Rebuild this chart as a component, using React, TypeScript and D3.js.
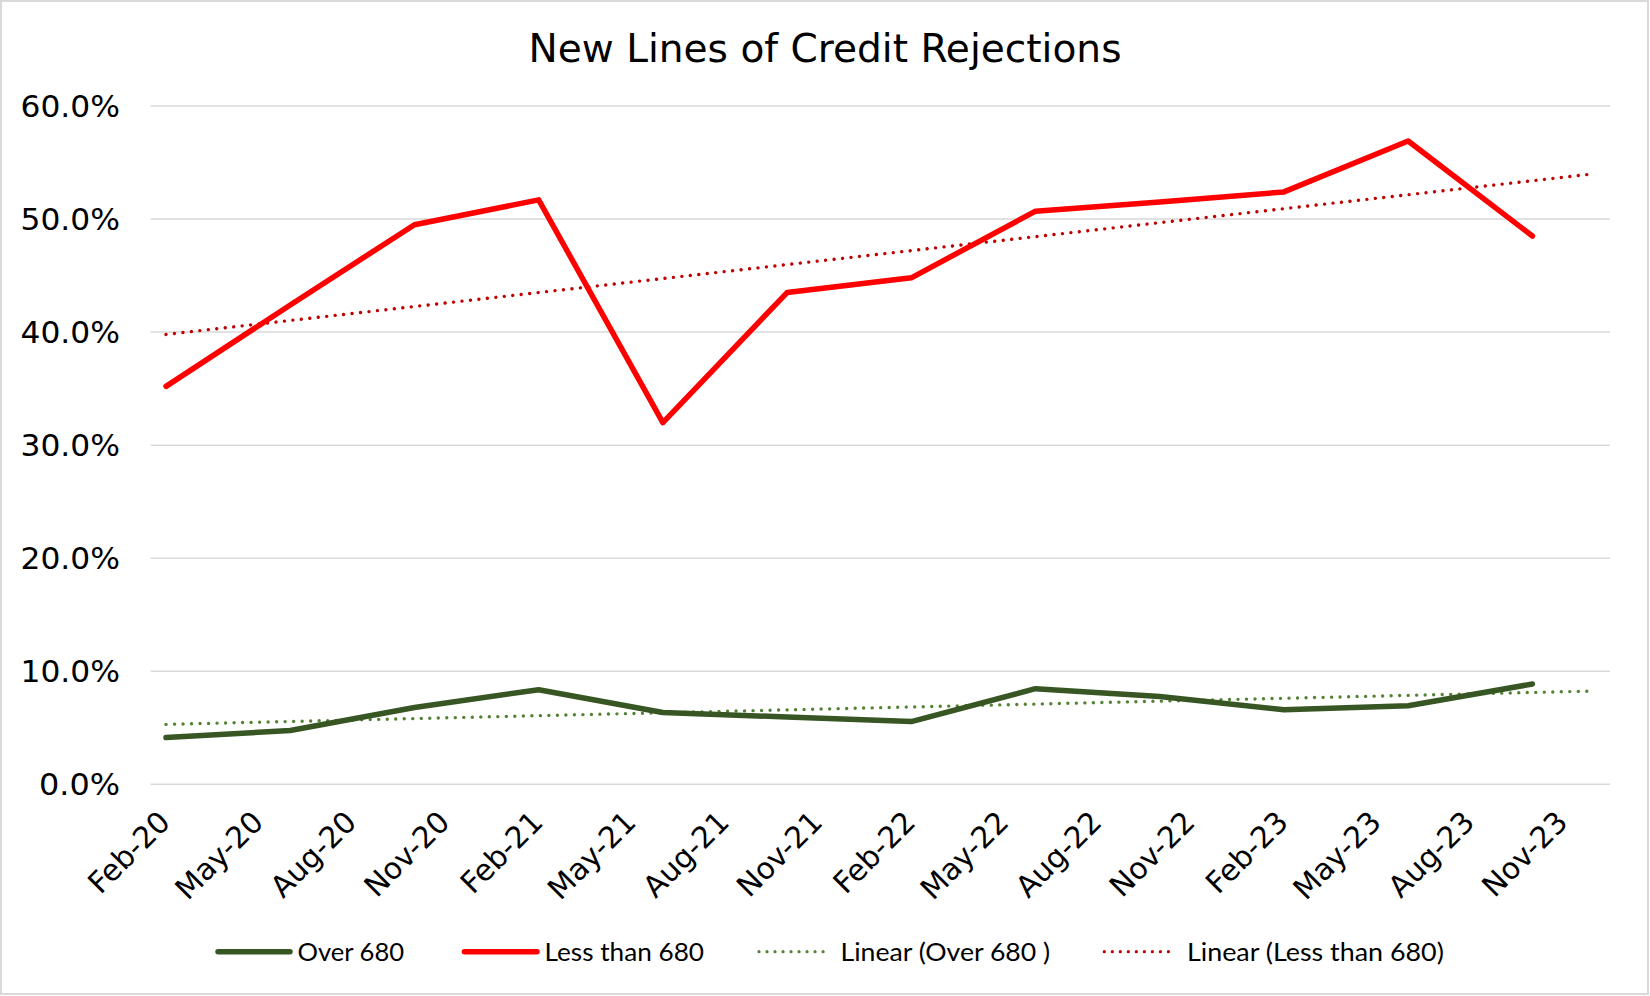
import { useEffect, useRef } from "react"
import * as d3 from "d3"

// data (percent values)
const months = ["Feb-20", "Jun-20", "Oct-20", "Feb-21", "Jun-21", "Oct-21", "Feb-22", "Jun-22", "Oct-22", "Feb-23", "Jun-23", "Oct-23"]
const over680 = [4.13, 4.76, 6.8, 8.37, 6.35, 5.95, 5.55, 8.46, 7.77, 6.6, 6.95, 8.87]
const lessThan680 = [35.2, 42.4, 49.5, 51.7, 32.0, 43.5, 44.8, 50.7, 51.5, 52.4, 56.9, 48.5]
const tickLabels = ["Feb-20", "May-20", "Aug-20", "Nov-20", "Feb-21", "May-21", "Aug-21", "Nov-21", "Feb-22", "May-22", "Aug-22", "Nov-22", "Feb-23", "May-23", "Aug-23", "Nov-23"]
const yTicks = [0, 10, 20, 30, 40, 50, 60]
const legendItems = [
  { label: "Over 680", color: "#375623", dotted: false },
  { label: "Less than 680", color: "#ff0000", dotted: false },
  { label: "Linear (Over 680 )", color: "#548235", dotted: true },
  { label: "Linear (Less than 680)", color: "#c00000", dotted: true },
]

const W = 1650
const H = 996

export default function App() {
  const svgRef = useRef<SVGSVGElement>(null)

  useEffect(() => {
    if (!svgRef.current) return
    const svg = d3.select(svgRef.current)
    svg.selectAll("*").remove()

    const parse = d3.timeParse("%b-%y")
    const start = parse(months[0]) as Date
    const monthIndex = (s: string) => d3.timeMonth.count(start, parse(s) as Date)
    const xs = months.map(monthIndex)

    const x = d3.scaleLinear().domain([-0.5, 46.5]).range([150.5, 1610])
    const y = d3.scaleLinear().domain([0, 60]).range([784.3, 106])

    // outer border
    svg
      .append("rect")
      .attr("x", 1)
      .attr("y", 1)
      .attr("width", W - 3)
      .attr("height", H - 3)
      .attr("fill", "#fff")
      .attr("stroke", "#d9d9d9")
      .attr("stroke-width", 2)

    // title
    svg
      .append("text")
      .attr("x", W / 2)
      .attr("y", 61.5)
      .attr("text-anchor", "middle")
      .attr("font-family", "DejaVu Sans")
      .attr("font-size", 39)
      .attr("textLength", 593)
      .attr("lengthAdjust", "spacingAndGlyphs")
      .text("New Lines of Credit Rejections")

    // gridlines + y labels
    const g = svg.append("g")
    g.selectAll(".grid")
      .data(yTicks)
      .join("line")
      .attr("x1", x.range()[0])
      .attr("x2", x.range()[1])
      .attr("y1", (d) => y(d))
      .attr("y2", (d) => y(d))
      .attr("stroke", "#d9d9d9")
      .attr("stroke-width", 1.5)

    g.selectAll(".ylab")
      .data(yTicks)
      .join("text")
      .attr("x", 120)
      .attr("y", (d) => y(d))
      .attr("dy", "0.36em")
      .attr("text-anchor", "end")
      .attr("font-family", "DejaVu Sans")
      .attr("font-size", 29.7)
      .attr("textLength", (d) => (d < 10 ? 81 : 99.5))
      .attr("lengthAdjust", "spacingAndGlyphs")
      .text((d) => d3.format(".1f")(d) + "%")

    // x labels, rotated
    g.selectAll(".xlab")
      .data(tickLabels)
      .join("text")
      .attr("transform", (d) => `translate(${x(monthIndex(d)) - 1.5}, 816.5) rotate(-45)`)
      .attr("dy", "0.35em")
      .attr("text-anchor", "end")
      .attr("font-family", "DejaVu Sans")
      .attr("font-size", 29.7)
      .text((d) => d)

    // trendlines (least squares, 2 months forward forecast)
    const trend = (vals: number[]) => {
      const mx = d3.mean(xs) as number
      const my = d3.mean(vals) as number
      const sxy = d3.sum(xs, (v, i) => (v - mx) * (vals[i] - my))
      const sxx = d3.sum(xs, (v) => (v - mx) ** 2)
      const slope = sxy / sxx
      const b = my - slope * mx
      const x0 = xs[0]
      const x1 = xs[xs.length - 1] + 2
      return [
        [x0, b + slope * x0],
        [x1, b + slope * x1],
      ] as [number, number][]
    }

    const line = d3
      .line<[number, number]>()
      .x((d) => x(d[0]))
      .y((d) => y(d[1]))

    const series = [
      { vals: over680, color: "#375623" },
      { vals: lessThan680, color: "#ff0000" },
    ]

    series.forEach((s, i) => {
      svg
        .append("path")
        .attr("d", line(trend(s.vals)))
        .attr("fill", "none")
        .attr("stroke", legendItems[i + 2].color)
        .attr("stroke-width", 3.4)
        .attr("stroke-linecap", "round")
        .attr("stroke-dasharray", "0.01 8.5")
    })

    series.forEach((s) => {
      svg
        .append("path")
        .attr("d", line(s.vals.map((v, i) => [xs[i], v] as [number, number])))
        .attr("fill", "none")
        .attr("stroke", s.color)
        .attr("stroke-width", 5.5)
        .attr("stroke-linejoin", "round")
        .attr("stroke-linecap", "round")
    })

    // legend
    const swatchX = [218, 464.4, 759, 1104.3]
    const swatchW = [72, 72.6, 70.5, 71.6]
    const textW = [106.6, 159.5, 209.7, 257]
    const legend = svg.append("g")
    legendItems.forEach((item, i) => {
      legend
        .append("line")
        .attr("x1", swatchX[i])
        .attr("x2", swatchX[i] + swatchW[i])
        .attr("y1", 951.7)
        .attr("y2", 951.7)
        .attr("stroke", item.color)
        .attr("stroke-width", item.dotted ? 3.2 : 5.5)
        .attr("stroke-linecap", "round")
        .attr("stroke-dasharray", item.dotted ? "0.01 8" : null)
      legend
        .append("text")
        .attr("x", swatchX[i] + swatchW[i] + (item.dotted ? 11 : 7.5))
        .attr("y", 960.7)
        .attr("font-family", "Lato, 'Noto Sans', sans-serif")
        .attr("font-size", 25.5)
        .attr("textLength", textW[i])
        .attr("lengthAdjust", "spacingAndGlyphs")
        .text(item.label)
    })
  }, [])

  return (
    <svg
      ref={svgRef}
      width={W}
      height={H}
      style={{ position: "fixed", left: 0, top: 0, background: "#fff" }}
    ></svg>
  )
}
